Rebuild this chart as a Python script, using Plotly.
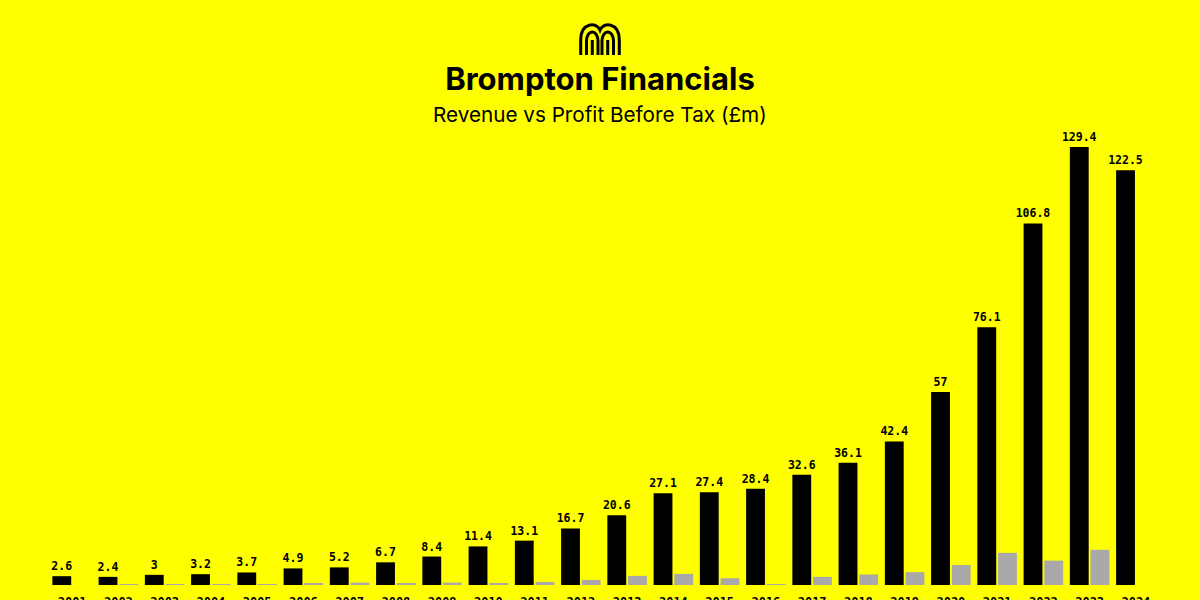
import plotly.graph_objects as go

years = [str(y) for y in range(2001, 2025)]
revenue = [2.6, 2.4, 3, 3.2, 3.7, 4.9, 5.2, 6.7, 8.4, 11.4, 13.1, 16.7, 20.6, 27.1, 27.4, 28.4,
           32.6, 36.1, 42.4, 57, 76.1, 106.8, 129.4, 122.5]
profit = [None, 0.2, 0.2, 0.2, 0.2, 0.5, 0.7, 0.5, 0.7, 0.5, 0.9, 1.5, 2.7, 3.3, 2.0, 0.2,
          2.4, 3.1, 3.8, 5.9, 9.5, 7.2, 10.4, None]
revenue_labels = [str(v) for v in revenue]

YELLOW = "#ffff00"
MONO = "DejaVu Sans Mono, Liberation Mono, monospace"
W, H = 1200, 600
ML, MR, MT, MB = 49, 41, 130, 15


def px(x):
    return (x - ML) / (W - ML - MR)


def py(y):
    return (H - MB - y) / (H - MT - MB)


def logo_path(points):
    return " ".join(f"{c} {px(a):.5f} {py(b):.5f}" if c != "C" else
                    f"C {px(a[0]):.5f} {py(a[1]):.5f} {px(b[0]):.5f} {py(b[1]):.5f} {px(d[0]):.5f} {py(d[1]):.5f}"
                    for c, a, b, d in points)


def P(c, a, b):
    return (c, a, b, None)


def C(a, b, d):
    return ("C", a, b, d)


logo_outer = [P("M", 580.7, 55), P("L", 580.7, 40), C((580.7, 22), (597, 22), (600, 30)),
              C((603, 22), (619.3, 22), (619.3, 40)), P("L", 619.3, 55)]
logo_left = [P("M", 586.5, 55), P("L", 586.5, 41), C((586.5, 29), (598, 29), (598, 41)), P("L", 598, 55)]
logo_right = [P("M", 602, 55), P("L", 602, 41), C((602, 29), (613.5, 29), (613.5, 41)), P("L", 613.5, 55)]
logo_mid_left = [P("M", 592.3, 55), P("L", 592.3, 40)]
logo_mid_right = [P("M", 607.7, 55), P("L", 607.7, 40)]

fig = go.Figure()
fig.add_bar(x=years, y=revenue, name="Revenue", marker_color="#000000", marker_line_width=0,
            text=revenue_labels, textposition="outside", cliponaxis=False, constraintext="none",
            textangle=0,
            textfont=dict(family=MONO, size=11.5, color="#000000", weight="bold"))
fig.add_bar(x=years, y=profit, name="Profit Before Tax", marker_color="#a9a9a9",
            marker_line_width=0)

logo_shapes = [dict(type="path", path=logo_path(p), xref="paper", yref="paper",
                    line=dict(color="#000000", width=3), fillcolor="rgba(0,0,0,0)")
               for p in (logo_outer, logo_left, logo_right, logo_mid_left, logo_mid_right)]

fig.update_layout(
    width=W, height=H, autosize=False,
    margin=dict(l=ML, r=MR, t=MT, b=MB),
    paper_bgcolor=YELLOW, plot_bgcolor=YELLOW,
    barmode="group", bargap=0.105, bargroupgap=0.09,
    showlegend=False,
    shapes=logo_shapes,
    title=dict(text="<b>Brompton Financials</b>", x=0.5, xanchor="center", y=0.868, yanchor="middle",
               font=dict(family="Inter", size=31, color="#000000", weight=800)),
    annotations=[dict(text="Revenue vs Profit Before Tax (£m)", x=px(600), y=py(115), xref="paper", yref="paper",
                      xanchor="center", yanchor="middle", showarrow=False,
                      font=dict(family="Inter", size=20.7, color="#000000"))],
)
fig.update_xaxes(type="category", tickfont=dict(family=MONO, size=12, color="#000000", weight="bold"),
                 showgrid=False, zeroline=False, showline=False, ticks="", automargin=False,
                 range=[-0.5, 23.5], ticklabelstandoff=8, tickangle=0)
fig.update_yaxes(range=[0, 134.4], showgrid=False, zeroline=False, showticklabels=False, showline=False)

fig.write_html("out.html", config=dict(displayModeBar=False),
               post_script="document.body.style.margin='0';document.documentElement.style.overflow='hidden';")
